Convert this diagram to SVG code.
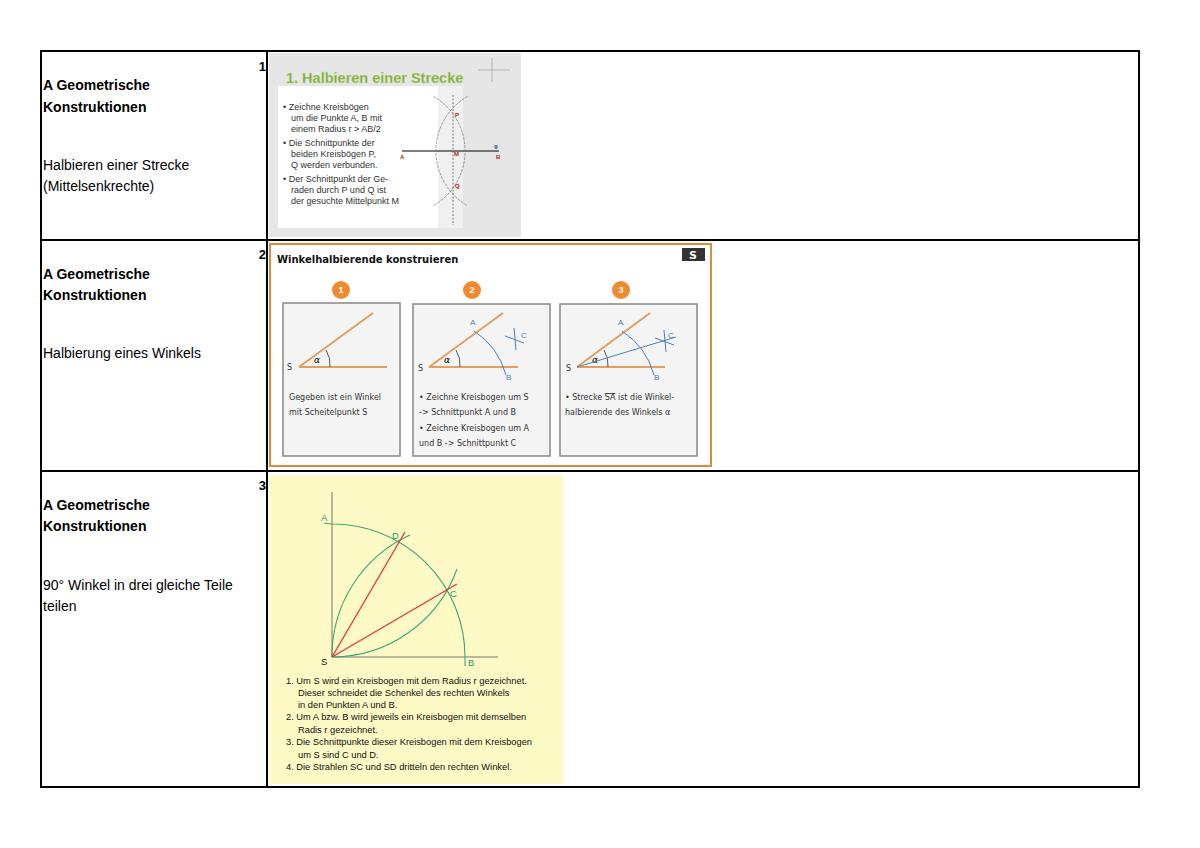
<svg xmlns="http://www.w3.org/2000/svg" width="1200" height="848" viewBox="0 0 1200 848">
<style>
.lt{font-family:"Liberation Sans",Arial,sans-serif;font-size:14px;fill:#000}
.b{font-weight:bold}
.num{font-family:"Liberation Sans",Arial,sans-serif;font-size:13px;font-weight:bold;text-anchor:end}
.s1{font-family:"Liberation Sans",Arial,sans-serif;font-size:9px;fill:#333}
.s2{font-family:"DejaVu Sans",sans-serif;font-size:8px;fill:#333}
.s3{font-family:"Liberation Sans",Arial,sans-serif;font-size:9.3px;fill:#111}
.or{stroke:#e0a060;stroke-width:2;fill:none}
.bl{stroke:#4a7fc0;stroke-width:1;fill:none}
.blt{font-family:"Liberation Sans",Arial,sans-serif;font-size:8px;fill:#4a7fc0}
.gr{stroke:#3aa878;stroke-width:1.1;fill:none}
.rd{stroke:#e83040;stroke-width:1.3}
.box{fill:#f4f4f4;stroke:#888;stroke-width:1.5}
.circ{fill:#f08a30}
.ct{font-family:"Liberation Sans",Arial,sans-serif;font-size:9px;fill:#fff;text-anchor:middle;font-weight:bold}
</style>
<rect width="1200" height="848" fill="#fff"/>
<g id="table" stroke="#000" stroke-width="2" fill="none">
<rect x="41" y="51" width="1098" height="736"/>
<line x1="41" y1="240" x2="1139" y2="240"/>
<line x1="41" y1="471" x2="1139" y2="471"/>
<line x1="267" y1="51" x2="267" y2="787"/>
</g>
<g id="labels">
<text class="lt b" x="43" y="90">A Geometrische</text>
<text class="lt b" x="43" y="112">Konstruktionen</text>
<text class="lt" x="43" y="170">Halbieren einer Strecke</text>
<text class="lt" x="43" y="191">(Mittelsenkrechte)</text>
<text class="num" x="266" y="71">1</text>
<text class="lt b" x="43" y="279">A Geometrische</text>
<text class="lt b" x="43" y="300">Konstruktionen</text>
<text class="lt" x="43" y="358">Halbierung eines Winkels</text>
<text class="num" x="266" y="259">2</text>
<text class="lt b" x="43" y="510">A Geometrische</text>
<text class="lt b" x="43" y="531">Konstruktionen</text>
<text class="lt" x="43" y="590">90° Winkel in drei gleiche Teile</text>
<text class="lt" x="43" y="611">teilen</text>
<text class="num" x="266" y="490">3</text>
</g>
<g id="img1">
<rect x="269" y="53" width="252" height="184" fill="#e6e6e6"/>
<rect x="278" y="86" width="160" height="142" fill="#fff"/>
<rect x="438" y="86" width="25" height="142" fill="#f0f0f0"/>
<text x="286" y="83" font-family="Liberation Sans,Arial,sans-serif" font-size="14.5" font-weight="bold" fill="#7aa83a" stroke="#c8e09a" stroke-width="0.4">1. Halbieren einer Strecke</text>
<path d="M478 70 L510 70 M492 58 L492 82" stroke="#999" stroke-width="0.6"/>
<g class="s1">
<text x="283" y="110">•  Zeichne Kreisbögen</text>
<text x="291" y="121">um die Punkte A, B mit</text>
<text x="291" y="132">einem Radius r &gt; AB/2</text>
<text x="283" y="146">•  Die Schnittpunkte der</text>
<text x="291" y="157">beiden Kreisbögen P,</text>
<text x="291" y="168">Q werden verbunden.</text>
<text x="283" y="182">•  Der Schnittpunkt der Ge-</text>
<text x="291" y="193">raden durch P und Q ist</text>
<text x="291" y="204">der gesuchte Mittelpunkt M</text>
</g>
<line x1="402" y1="151" x2="499" y2="151" stroke="#000" stroke-width="1"/>
<line x1="453" y1="95" x2="453" y2="225" stroke="#666" stroke-width="0.8" stroke-dasharray="2,1.5"/>
<path d="M433.5 96.4 A63 63 0 0 1 433.5 205.6" stroke="#777" stroke-width="0.7" fill="none" stroke-dasharray="3,1"/>
<path d="M467.5 96.4 A63 63 0 0 0 467.5 205.6" stroke="#777" stroke-width="0.7" fill="none" stroke-dasharray="3,1"/>
<g font-family="Liberation Sans,Arial,sans-serif" font-size="6" fill="#c02020" font-weight="bold">
<text x="455" y="117">P</text><text x="454" y="156">M</text><text x="455" y="188">Q</text>
<text x="400" y="159">A</text><text x="496" y="159">B</text></g>
<text x="494" y="148" font-family="Liberation Sans,Arial,sans-serif" font-size="6" fill="#2040a0" font-weight="bold">g</text>
</g>
<g id="img2">
<rect x="270" y="244" width="441" height="222" fill="#fff" stroke="#e08a40" stroke-width="2"/>
<text x="277" y="263" font-family="DejaVu Sans,sans-serif" font-size="10" font-weight="bold" fill="#111">Winkelhalbierende konstruieren</text>
<rect x="682" y="248" width="23" height="13" fill="#333"/>
<text x="693" y="259" font-family="DejaVu Sans,sans-serif" font-size="11" font-weight="bold" fill="#fff" text-anchor="middle">S</text>
<circle class="circ" cx="341" cy="290" r="9"/><text class="ct" x="341" y="293">1</text>
<circle class="circ" cx="472" cy="290" r="9"/><text class="ct" x="472" y="293">2</text>
<circle class="circ" cx="621" cy="290" r="9"/><text class="ct" x="621" y="293">3</text>
<rect class="box" x="283" y="303" width="117" height="153"/>
<rect class="box" x="413" y="304" width="137" height="152"/>
<rect class="box" x="560" y="304" width="137" height="152"/>
<path class="or" d="M299 367 H387 M299 367 L373 313"/>
<path d="M326 350 A28 28 0 0 1 330 367" stroke="#333" fill="none" stroke-width="0.8"/>
<text x="314" y="363" font-family="DejaVu Serif,serif" font-style="italic" font-size="9">α</text>
<text x="287" y="370" class="s2">S</text>
<path class="or" d="M429 367 H518 M429 367 L503 313"/>
<path d="M456 350 A28 28 0 0 1 460 367" stroke="#333" fill="none" stroke-width="0.8"/>
<text x="444" y="363" font-family="DejaVu Serif,serif" font-style="italic" font-size="9">α</text>
<text x="418" y="371" class="s2">S</text>
<path class="bl" d="M474 331 A77 77 0 0 1 506 375"/>
<path class="bl" d="M505 336 L524 343 M514 328 L516 350"/>
<text class="blt" x="470" y="325">A</text><text class="blt" x="506" y="380">B</text><text class="blt" x="521" y="338">C</text>
<path class="or" d="M577 367 H665 M577 367 L650 313"/>
<path d="M604 350 A28 28 0 0 1 608 367" stroke="#333" fill="none" stroke-width="0.8"/>
<text x="592" y="363" font-family="DejaVu Serif,serif" font-style="italic" font-size="9">α</text>
<text x="566" y="371" class="s2">S</text>
<path class="bl" d="M622 331 A77 77 0 0 1 654 375"/>
<path class="bl" d="M577 367 L676 337 M655 338 L674 345 M664 330 L666 352"/>
<text class="blt" x="618" y="325">A</text><text class="blt" x="654" y="380">B</text><text class="blt" x="668" y="338">C</text>
<g class="s2">
<text x="289" y="400">Gegeben ist ein Winkel</text>
<text x="289" y="415">mit Scheitelpunkt S</text>
<text x="419" y="400">• Zeichne Kreisbogen um S</text>
<text x="419" y="415">-&gt; Schnittpunkt A und B</text>
<text x="419" y="431">• Zeichne Kreisbogen um A</text>
<text x="419" y="446">und B -&gt; Schnittpunkt C</text>
<text x="565" y="400">• Strecke <tspan text-decoration="overline">SA</tspan> ist die Winkel-</text>
<text x="565" y="415">halbierende des Winkels α</text>
</g>
</g>
<g id="img3">
<rect x="269" y="475" width="294" height="309" fill="#fdfac6"/>
<path d="M332 492 V657 H498" stroke="#777" stroke-width="1" fill="none"/>
<path class="gr" d="M324 523 L332 524 A133 133 0 0 1 465 657 L465 666"/>
<path class="gr" d="M332 657 A133 133 0 0 1 410 535"/>
<path class="gr" d="M332 657 A133 133 0 0 0 457 569"/>
<line class="rd" x1="332" y1="657" x2="405" y2="532"/>
<line class="rd" x1="332" y1="657" x2="457" y2="584"/>
<g font-family="Liberation Sans,Arial,sans-serif" font-size="9.5" fill="#2a9a6a">
<text x="321" y="521">A</text><text x="392" y="539">D</text><text x="450" y="597">C</text><text x="468" y="666">B</text></g>
<text x="321" y="665" font-family="Liberation Sans,Arial,sans-serif" font-size="9.5" fill="#222">S</text>
<g class="s3">
<text x="286" y="684">1. Um S wird ein Kreisbogen mit dem Radius r gezeichnet.</text>
<text x="298" y="696">Dieser schneidet die Schenkel des rechten Winkels</text>
<text x="298" y="708">in den Punkten A und B.</text>
<text x="286" y="720">2. Um A bzw. B wird jeweils ein Kreisbogen mit demselben</text>
<text x="298" y="733">Radis r gezeichnet.</text>
<text x="286" y="745">3. Die Schnittpunkte dieser Kreisbogen mit dem Kreisbogen</text>
<text x="298" y="758">um S sind C und D.</text>
<text x="286" y="770">4. Die Strahlen SC und SD dritteln den rechten Winkel.</text>
</g>
</g>
</svg>
